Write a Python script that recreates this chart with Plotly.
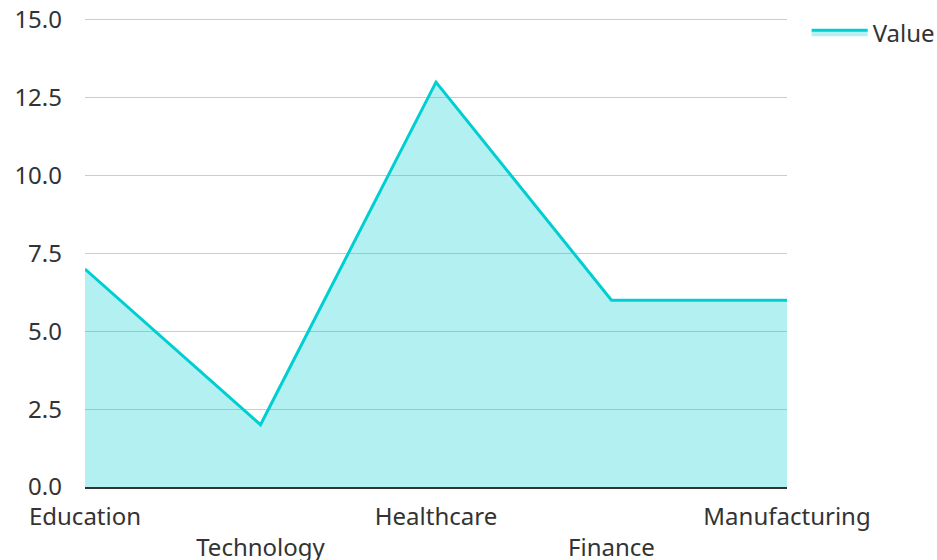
import plotly.graph_objects as go

categories = ["Education", "Technology", "Healthcare", "Finance", "Manufacturing"]
values = [7, 2, 13, 6, 6]
tick_labels = ["Education", "<br>Technology", "Healthcare", "<br>Finance", "Manufacturing"]
y_ticks = [0, 2.5, 5, 7.5, 10, 12.5, 15]

fig = go.Figure()
fig.add_trace(go.Scatter(
    x=list(range(len(categories))), y=values, name="Value",
    mode="lines", fill="tozeroy",
    line=dict(color="#00CED1", width=3),
    fillcolor="rgba(0,206,209,0.3)",
))

fig.update_layout(
    width=937, height=560,
    margin=dict(l=85, r=150, t=18, b=73, autoexpand=False),
    paper_bgcolor="white", plot_bgcolor="white",
    font=dict(family="Noto Sans", size=24, color="#333333"),
    showlegend=True,
    legend=dict(x=1.028, y=1.017, xanchor="left", yanchor="top", itemwidth=56,
                font=dict(size=24, color="#333333"), bgcolor="rgba(0,0,0,0)"),
    xaxis=dict(
        range=[0, len(categories) - 1], automargin=False,
        tickmode="array", tickvals=list(range(len(categories))), ticktext=tick_labels,
        showgrid=False, zeroline=False,
        showline=True, linecolor="#333333", linewidth=2,
        ticks="", tickangle=0, ticklabelstandoff=7,
    ),
    yaxis=dict(
        range=[0, 15.06], automargin=False,
        tickmode="array", tickvals=y_ticks, tickformat=".1f",
        showgrid=True, gridcolor="#cccccc", gridwidth=1,
        zeroline=False, showline=False, ticks="",
        ticklabelstandoff=22,
    ),
)

fig.write_html("out.html", config={"displayModeBar": False},
               post_script="document.body.style.margin='0px';")
